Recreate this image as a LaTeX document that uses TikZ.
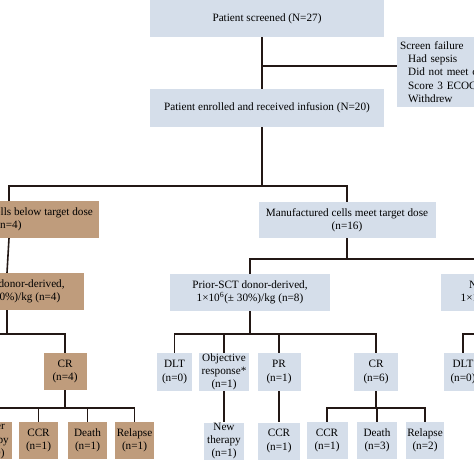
\documentclass[tikz,border=0pt]{standalone}
\usepackage{fontspec}
\setmainfont{Liberation Serif}
\definecolor{bluebox}{RGB}{213,222,234}
\definecolor{brownbox}{RGB}{191,156,124}
\definecolor{linec}{RGB}{35,24,21}
\tikzset{
  bx/.style={fill=bluebox, draw=none, inner sep=0pt, align=center, font=\fontsize{11.2}{13.3}\selectfont},
  bbx/.style={bx, fill=brownbox},
  conn/.style={draw=linec, line width=1.6pt}
}
\begin{document}
\begin{tikzpicture}[x=1pt,y=-1pt]
\useasboundingbox (0,0) rectangle (474,474);
\fill[white] (0,0) rectangle (474,474);
\clip (0,0) rectangle (474,474);
% level 0-1
\node[bx, minimum width=234, minimum height=37] (scr) at (267,18.5) {Patient screened (N=27)};
\node[bx, minimum width=234, minimum height=38] (enr) at (267,108) {Patient enrolled and received infusion (N=20)};
\node[bx, anchor=west, text width=114pt, inner xsep=3pt, minimum height=70, align=left] (sf) at (397,72)
  {Screen failure\\\hspace*{8pt}Had sepsis\\\hspace*{8pt}Did not meet criteria\\\hspace*{8pt}Score 3 ECOG\\\hspace*{8pt}Withdrew};
% level 2
\node[bbx, minimum width=180, minimum height=37] (below) at (9,219.5) {Manufactured cells below target dose\\(n=4)};
\node[bx, minimum width=177, minimum height=36] (meet) at (347,220) {Manufactured cells meet target dose\\(n=16)};
% level 3
\node[bbx, minimum width=154, minimum height=37] (ldonor) at (7,291.5) {Prior-SCT donor-derived,\\1×10\textsuperscript{6}(± 30\%)/kg (n=4)};
\node[bx, minimum width=160, minimum height=37] (prior) at (250,292.5) {Prior-SCT donor-derived,\\1×10\textsuperscript{6}(± 30\%)/kg (n=8)};
\node[bx, minimum width=146, minimum height=37] (newd) at (514,292.5) {New donor-derived,\\1×10\textsuperscript{6}(± 30\%)/kg (n=4)};
% level 4
\node[bbx, minimum width=43, minimum height=37] (cr4) at (65,371.5) {CR\\(n=4)};
\node[bx, minimum width=35, minimum height=38] (dlt2) at (174.5,372) {DLT\\(n=0)};
\node[bx, minimum width=50, minimum height=38] (obj) at (224,372) {Objective\\response*\\(n=1)};
\node[bx, minimum width=43, minimum height=38] (pr) at (279,372) {PR\\(n=1)};
\node[bx, minimum width=44, minimum height=38] (cr6) at (376,372) {CR\\(n=6)};
\node[bx, minimum width=38, minimum height=38] (dlt3) at (463,372) {DLT\\(n=0)};
% level 5
\node[bbx, minimum width=40, minimum height=37] (oth) at (-8,440.5) {Other\\therapy\\(n=0)};
\node[bbx, minimum width=39, minimum height=37] (ccr1) at (38.5,440.5) {CCR\\(n=1)};
\node[bbx, minimum width=39, minimum height=37] (dth1) at (87.5,440.5) {Death\\(n=1)};
\node[bbx, minimum width=39, minimum height=37] (rel1) at (134.5,440.5) {Relapse\\(n=1)};
\node[bx, minimum width=40, minimum height=37] (nth) at (224,441) {New\\therapy\\(n=1)};
\node[bx, minimum width=42, minimum height=37] (ccr2) at (279,441) {CCR\\(n=1)};
\node[bx, minimum width=41, minimum height=37] (ccr3) at (327,440.5) {CCR\\(n=1)};
\node[bx, minimum width=40, minimum height=37] (dth2) at (377,440.5) {Death\\(n=3)};
\node[bx, minimum width=38, minimum height=37] (rel2) at (425,440.5) {Relapse\\(n=2)};
% junction coordinates
\coordinate (cx) at (262,0);
\coordinate (sfj) at (262,66);
\coordinate (j1) at (262,186);
\coordinate (lg) at (-60,334);
% connectors
\draw[conn] (scr.south -| cx) -- (enr.north -| cx);
\draw[conn] (sfj) -- (sfj -| sf.west);
\draw[conn] (enr.south -| cx) -- (j1);
\draw[conn] (below.north) -- (below.north |- j1) -- (meet.north |- j1) -- (meet.north);
\draw[conn] (below.south) -- (ldonor.north);
\draw[conn] (ldonor.south) -- (ldonor.south |- lg);
\draw[conn] (lg) -| (cr4.north);
\draw[conn] (meet.south) -- (meet.south |- 0,259);
\draw[conn] (prior.north) -- (prior.north |- 0,259) -- (newd.north |- 0,259) -- (newd.north);
\draw[conn] (prior.south) -- (prior.south |- 0,334);
\draw[conn] (dlt2.north) -- (dlt2.north |- 0,334) -- (cr6.north |- 0,334) -- (cr6.north);
\draw[conn] (obj.north) -- (obj.north |- 0,334);
\draw[conn] (pr.north) -- (pr.north |- 0,334);
\draw[conn] (newd.south) -- (newd.south |- 0,334) -- (dlt3.north |- 0,334) -- (dlt3.north);
\draw[conn] (cr4.south) -- (cr4.south |- 0,408);
\draw[conn] (oth.north) -- (oth.north |- 0,408) -- (rel1.north |- 0,408) -- (rel1.north);
\draw[conn] (ccr1.north) -- (ccr1.north |- 0,408);
\draw[conn] (dth1.north) -- (dth1.north |- 0,408);
\draw[conn] (obj.south) -- (nth.north);
\draw[conn] (pr.south) -- (ccr2.north);
\draw[conn] (cr6.south) -- (cr6.south |- 0,408);
\draw[conn] (ccr3.north) -- (ccr3.north |- 0,408) -- (rel2.north |- 0,408) -- (rel2.north);
\draw[conn] (dth2.north) -- (dth2.north |- 0,408);
\end{tikzpicture}
\end{document}
